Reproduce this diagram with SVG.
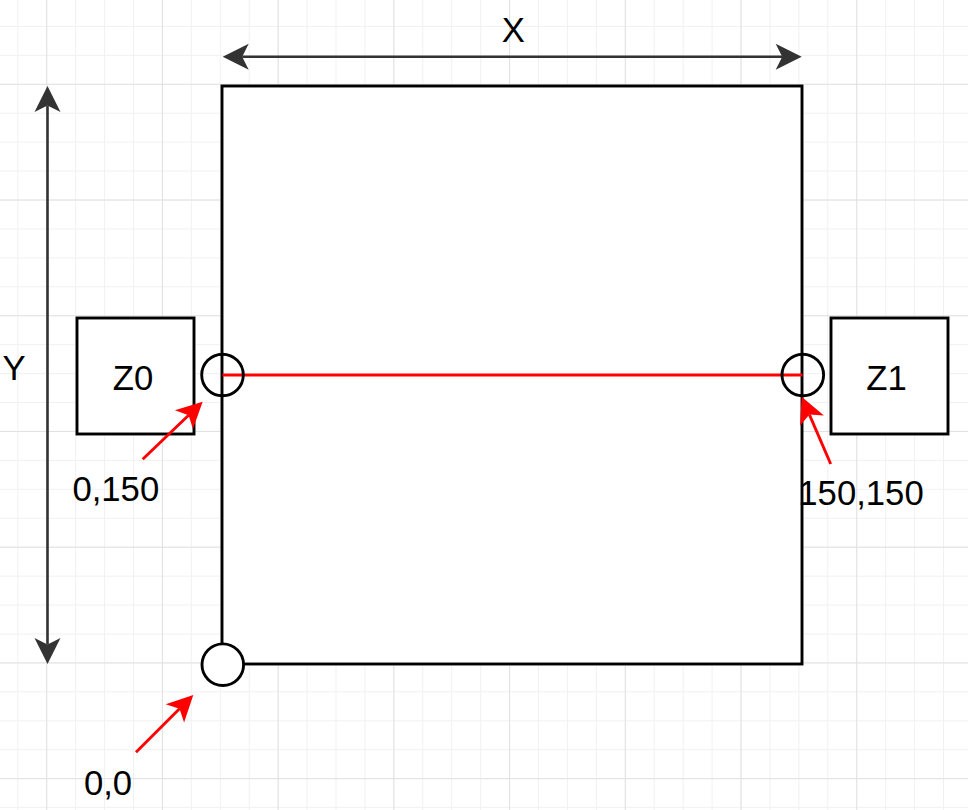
<svg xmlns="http://www.w3.org/2000/svg" width="968" height="810" viewBox="0 0 968 810">
<style>
  text { font-family: "Liberation Sans", Arial, sans-serif; font-size: 34.7px; fill: #000; }
  .box { fill: #fff; stroke: #000; stroke-width: 2.9; }
  .ring { fill: none; stroke: #000; stroke-width: 2.9; }
  .dim { stroke: #333; stroke-width: 2.6; fill: none; }
  .red { stroke: #ff0000; stroke-width: 2.9; fill: none; }
</style>
<defs>
  <pattern id="minor" patternUnits="userSpaceOnUse" x="17.27" y="25.94" width="28.93" height="28.93">
    <rect x="0" y="0" width="1" height="28.93" fill="#f1f1f1"/>
    <rect x="0" y="0" width="28.93" height="1" fill="#f1f1f1"/>
  </pattern>
  <pattern id="major" patternUnits="userSpaceOnUse" x="46.2" y="83.8" width="115.72" height="115.72">
    <rect x="0" y="0" width="1" height="115.72" fill="#e1e1e1"/>
    <rect x="0" y="0" width="115.72" height="1" fill="#e1e1e1"/>
  </pattern>
  <marker id="arrDark" markerUnits="userSpaceOnUse" viewBox="-27 -14 28 28" refX="-19.5" refY="0" markerWidth="28" markerHeight="28" orient="auto-start-reverse">
    <path d="M0,0 L-26,-13 L-19.5,0 L-26,13 Z" fill="#333"/>
  </marker>
  <marker id="arrRed" markerUnits="userSpaceOnUse" viewBox="-27 -14 28 28" refX="-19.5" refY="0" markerWidth="28" markerHeight="28" orient="auto">
    <path d="M0,0 L-26,-13 L-19.5,0 L-26,13 Z" fill="#ff0000"/>
  </marker>
</defs>
<rect width="968" height="810" fill="#fff"/>
<rect width="968" height="810" fill="url(#minor)"/>
<rect width="968" height="810" fill="url(#major)"/>

<g id="area">
  <rect class="box" x="222" y="86" width="580" height="578"/>
</g>
<g id="Z0">
  <rect class="box" x="77" y="318" width="117" height="116"/>
  <text x="133" y="390" text-anchor="middle">Z0</text>
</g>
<g id="Z1">
  <rect class="box" x="831" y="318" width="117" height="116"/>
  <text x="886.5" y="390" text-anchor="middle">Z1</text>
</g>

<g id="connectors">
  <line class="dim" x1="242.2" y1="56.7" x2="782.2" y2="56.7" marker-start="url(#arrDark)" marker-end="url(#arrDark)"/>
  <line class="dim" x1="47.5" y1="105.5" x2="47.5" y2="644.5" marker-start="url(#arrDark)" marker-end="url(#arrDark)"/>
  <line class="red" x1="222.5" y1="375" x2="802.5" y2="375"/>
  <line class="red" x1="142.7" y1="459.3" x2="188.6" y2="415.2" marker-end="url(#arrRed)"/>
  <line class="red" x1="830.7" y1="464" x2="809.4" y2="414.6" marker-end="url(#arrRed)"/>
  <line class="red" x1="136" y1="752.3" x2="179.5" y2="708.8" marker-end="url(#arrRed)"/>
</g>

<g id="p-0-150">
  <circle class="ring" cx="222.5" cy="375" r="20.8"/>
</g>
<g id="p-150-150">
  <circle class="ring" cx="802.8" cy="375" r="20.8"/>
</g>
<g id="p-0-0">
  <circle class="ring" cx="222.8" cy="664.7" r="20.8" style="fill:#fff"/>
</g>

<g id="labels">
  <text x="513.3" y="42.3" text-anchor="middle">X</text>
  <text x="14" y="379.5" text-anchor="middle">Y</text>
  <text x="115.8" y="501" text-anchor="middle">0,150</text>
  <text x="861" y="505" text-anchor="middle">150,150</text>
  <text x="108" y="795" text-anchor="middle">0,0</text>
</g>
</svg>
